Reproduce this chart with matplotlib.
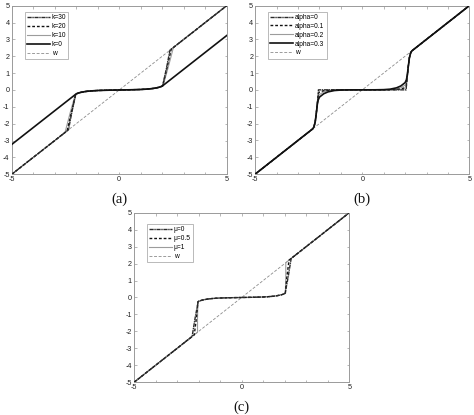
import matplotlib
matplotlib.use("Agg")
import matplotlib.pyplot as plt

# ---------------- data ----------------
# shared central (shrinkage) part
mid_x = [-2.0, -1.9, -1.8, -1.6, -1.4, -1.2, -1.0, -0.5, 0.0, 0.5, 1.0, 1.2, 1.4, 1.6, 1.8, 1.9, 2.0]
mid_y = [-0.23, -0.18, -0.145, -0.095, -0.065, -0.045, -0.03, -0.012, 0.0, 0.012, 0.03, 0.045, 0.065, 0.095, 0.145, 0.18, 0.23]

w_x = [-5, 5]
w_y = [-5, 5]

# panel (a)
a_labels = ["k=30", "k=20", "k=10", "k=0"]
a_k30_x = [-5, -2.36, -2.2, -2.02] + mid_x + [2.02, 2.2, 2.36, 5]
a_k30_y = [-5, -2.36, -1.3, -0.25] + mid_y + [0.25, 1.3, 2.36, 5]
a_k20_x = [-5, -2.42, -2.22, -2.02] + mid_x + [2.02, 2.22, 2.42, 5]
a_k20_y = [-5, -2.42, -1.3, -0.25] + mid_y + [0.25, 1.3, 2.42, 5]
a_k10_x = [-5, -2.52, -2.27, -2.04] + mid_x + [2.04, 2.27, 2.52, 5]
a_k10_y = [-5, -2.52, -1.3, -0.25] + mid_y + [0.25, 1.3, 2.52, 5]
a_k0_x = [-5] + mid_x + [5]
a_k0_y = [-3.23] + mid_y + [3.23]

# panel (b)
b_labels = ["alpha=0", "alpha=0.1", "alpha=0.2", "alpha=0.3"]
b_a0_x = [-5, -2.32, -2.26, -2.2, -2.15, -2.1, -2.06, -2.05, 0, 2.05, 2.06, 2.1, 2.15, 2.2, 2.26, 2.32, 5]
b_a0_y = [-5, -2.32, -2.2, -1.9, -1.4, -0.8, -0.3, 0.0, 0, 0.0, 0.3, 0.8, 1.4, 1.9, 2.2, 2.32, 5]
b_a1_x = [-5, -2.32, -2.26, -2.2, -2.15, -2.1, -2.06, -2.0, -1.8, -1.5, -1.2, 0, 1.2, 1.5, 1.8, 2.0, 2.06, 2.1, 2.15, 2.2, 2.26, 2.32, 5]
b_a1_y = [-5, -2.32, -2.2, -1.9, -1.4, -0.8, -0.22, -0.13, -0.05, -0.012, 0.0, 0, 0.0, 0.012, 0.05, 0.13, 0.22, 0.8, 1.4, 1.9, 2.2, 2.32, 5]
b_a2_x = [-5, -2.32, -2.26, -2.2, -2.15, -2.1, -2.06, -2.0, -1.8, -1.6, -1.3, -1.0, 0, 1.0, 1.3, 1.6, 1.8, 2.0, 2.06, 2.1, 2.15, 2.2, 2.26, 2.32, 5]
b_a2_y = [-5, -2.32, -2.2, -1.9, -1.4, -0.8, -0.4, -0.28, -0.12, -0.06, -0.015, -0.003, 0, 0.003, 0.015, 0.06, 0.12, 0.28, 0.4, 0.8, 1.4, 1.9, 2.2, 2.32, 5]
b_a3_x = [-5, -2.32, -2.26, -2.2, -2.15, -2.1, -2.06, -2.0, -1.8, -1.6, -1.3, -1.0, -0.6, 0, 0.6, 1.0, 1.3, 1.6, 1.8, 2.0, 2.06, 2.1, 2.15, 2.2, 2.26, 2.32, 5]
b_a3_y = [-5, -2.32, -2.2, -1.9, -1.4, -0.85, -0.6, -0.43, -0.23, -0.12, -0.04, -0.012, -0.002, 0, 0.002, 0.012, 0.04, 0.12, 0.23, 0.43, 0.6, 0.85, 1.4, 1.9, 2.2, 2.32, 5]

# panel (c)
c_labels = ["\u03bc=0", "\u03bc=0.5", "\u03bc=1"]
c_m0_x = [-5, -2.3, -2.16, -2.02] + mid_x + [2.02, 2.16, 2.3, 5]
c_m0_y = [-5, -2.3, -1.2, -0.25] + mid_y + [0.25, 1.2, 2.3, 5]
c_m05_x = [-5, -2.2, -2.1, -2.03] + mid_x + [2.03, 2.1, 2.2, 5]
c_m05_y = [-5, -2.2, -1.2, -0.25] + mid_y + [0.25, 1.2, 2.2, 5]
c_m1_x = [-5, -2.05, -2.05, -2.03] + mid_x + [2.03, 2.05, 2.05, 5]
c_m1_y = [-5, -2.05, -1.2, -0.25] + mid_y + [0.25, 1.2, 2.05, 5]

x_ticks = [-5, -4, -3, -2, -1, 0, 1, 2, 3, 4, 5]
x_tick_labels = ["-5", "", "", "", "", "0", "", "", "", "", "5"]
y_ticks = [-5, -4, -3, -2, -1, 0, 1, 2, 3, 4, 5]
y_tick_labels = ["-5", "-4", "-3", "-2", "-1", "0", "1", "2", "3", "4", "5"]
panel_labels = ["(a)", "(b)", "(c)"]

# ---------------- styles ----------------
plt.rcParams['font.family'] = ['Liberation Sans', 'DejaVu Sans']
S_DASHDOT = dict(color='#2a2a2a', lw=1.0, ls=(0, (3.0, 0.5, 1.0, 0.5)), zorder=5)
S_DASH = dict(color='#111111', lw=1.0, ls=(0, (2.0, 1.4)), zorder=4)
S_GRAY = dict(color='#9c9c9c', lw=0.8, ls='-', zorder=3)
S_BLACK = dict(color='#111111', lw=1.2, ls='-', zorder=6)
S_W = dict(color='#8c8c8c', lw=0.6, ls=(0, (3.5, 2.0)), zorder=2)

fig = plt.figure(figsize=(4.74, 4.15), dpi=100)
axa = fig.add_axes([0.0247, 0.580, 0.4536, 0.4063])
axb = fig.add_axes([0.5386, 0.5807, 0.4515, 0.4056])
axc = fig.add_axes([0.2827, 0.0788, 0.4542, 0.4087])


def style(ax):
    ax.set_xlim(-5, 5)
    ax.set_ylim(-5, 5)
    ax.set_xticks(x_ticks)
    ax.set_xticklabels(x_tick_labels)
    ax.set_yticks(y_ticks)
    ax.set_yticklabels(y_tick_labels)
    ax.tick_params(direction='in', length=1.8, width=0.5, color='#9a9a9a',
                   labelsize=5.2, labelcolor='#222222', pad=1.5,
                   top=True, right=True)
    for sp in ax.spines.values():
        sp.set_color('#9a9a9a')
        sp.set_linewidth(0.7)


def legend(ax, top):
    lg = ax.legend(loc='upper left', bbox_to_anchor=(0.06, top), fontsize=4.8,
                   frameon=True, fancybox=False, edgecolor='#9a9a9a',
                   handlelength=3.4, handletextpad=0.3, labelspacing=0.28,
                   borderpad=0.35, borderaxespad=0.0)
    lg.get_frame().set_linewidth(0.6)
    lg.set_zorder(10)


# panel (a)
axa.plot(a_k30_x, a_k30_y, label=a_labels[0], **S_DASHDOT)
axa.plot(a_k20_x, a_k20_y, label=a_labels[1], **S_DASH)
axa.plot(a_k10_x, a_k10_y, label=a_labels[2], **S_GRAY)
axa.plot(a_k0_x, a_k0_y, label=a_labels[3], **S_BLACK)
axa.plot(w_x, w_y, label="w", **S_W)
style(axa)
legend(axa, 0.962)

# panel (b)
axb.plot(b_a0_x, b_a0_y, label=b_labels[0], **S_DASHDOT)
axb.plot(b_a1_x, b_a1_y, label=b_labels[1], **S_DASH)
axb.plot(b_a2_x, b_a2_y, label=b_labels[2], **S_GRAY)
axb.plot(b_a3_x, b_a3_y, label=b_labels[3], **S_BLACK)
axb.plot(w_x, w_y, label="w", **S_W)
style(axb)
legend(axb, 0.965)

# panel (c)
axc.plot(c_m0_x, c_m0_y, label=c_labels[0], **S_DASHDOT)
axc.plot(c_m05_x, c_m05_y, label=c_labels[1], **S_DASH)
axc.plot(c_m1_x, c_m1_y, label=c_labels[2], **S_GRAY)
axc.plot(w_x, w_y, label="w", **S_W)
style(axc)
legend(axc, 0.933)

for ax, lab in zip([axa, axb, axc], panel_labels):
    ax.text(0.5, -0.11, lab, transform=ax.transAxes, ha='center', va='top',
            fontsize=10.5, family=['Liberation Serif', 'DejaVu Serif'], color='#111111')

fig.savefig("out.png", dpi=100)
